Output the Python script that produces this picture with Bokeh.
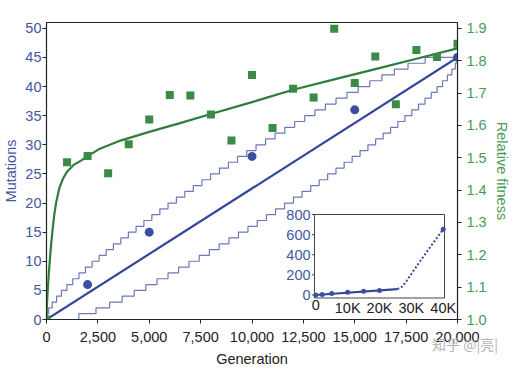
from bokeh.plotting import figure
from bokeh.layouts import column
from bokeh.models import Range1d, LinearAxis, FixedTicker, NumeralTickFormatter, Div
from bokeh.core.properties import value
from bokeh.embed import file_html
from bokeh.resources import INLINE

# ---------------- data ----------------
MUT_GEN = [2000, 5000, 10000, 15000, 20000]
MUTATIONS = [6, 15, 28, 36, 45]

MUT_FIT_GEN = [0, 20000]
MUT_FIT = [0, 45]

FIT_GEN = [0, 1000, 2000, 3000, 4000, 5000, 6000, 7000, 8000, 9000, 10000,
           11000, 12000, 13000, 14000, 15000, 16000, 17000, 18000, 19000, 20000]
FITNESS = [1.0, 1.486, 1.505, 1.452, 1.542, 1.618, 1.694, 1.692, 1.634, 1.553, 1.756,
           1.592, 1.713, 1.686, 1.899, 1.731, 1.813, 1.665, 1.833, 1.811, 1.852]

FIT_CURVE_GEN = [0, 25, 60, 110, 170, 230, 300, 380, 480, 620, 800, 1000, 1300, 1700,
                 2000, 2600, 3600, 5000, 6500, 8000, 10000, 12000, 14000, 16000, 18000, 20000]
FIT_CURVE = [1.0, 1.05, 1.09, 1.14, 1.19, 1.235, 1.28, 1.325, 1.365, 1.405, 1.435, 1.457,
             1.477, 1.492, 1.505, 1.528, 1.553, 1.58, 1.607, 1.635, 1.672, 1.71, 1.742,
             1.774, 1.806, 1.838]

# generation at which the upper / lower band reaches 1, 2, ..., 45 mutations
UPPER_STEP_GEN = [11, 108, 278, 490, 728, 992, 1278, 1580, 1896, 2224, 2560, 2904, 3256,
                  3616, 3984, 4358, 4740, 5126, 5516, 5914, 6320, 6730, 7142, 7564, 7984,
                  8418, 8854, 9296, 9744, 10196, 10658, 11122, 11598, 12076, 12568, 13062,
                  13572, 14088, 14622, 15166, 15732, 16320, 16928, 17592, 18426]
LOWER_STEP_GEN = [1574, 2408, 3072, 3680, 4268, 4834, 5378, 5912, 6428, 6938, 7432, 7924,
                  8402, 8878, 9342, 9804, 10256, 10704, 11146, 11582, 12016, 12436, 12858,
                  13270, 13680, 14086, 14484, 14874, 15260, 15642, 16016, 16384, 16744,
                  17096, 17440, 17776, 18104, 18420, 18722, 19008, 19272, 19510, 19722,
                  19892, 19989]
STEP_COUNTS = list(range(0, 46)) + [45]

INSET_GEN = [0, 2000, 5000, 10000, 15000, 20000, 40000]
INSET_MUT = [0, 6, 15, 28, 36, 45, 653]
INSET_FIT_GEN = [0, 25600]
INSET_FIT_MUT = [0, 58]
INSET_PROJ_GEN = [25600, 27000, 28200, 31300, 34400, 37600, 40000]
INSET_PROJ_MUT = [58, 80, 126, 270, 410, 550, 653]

X_TICKS = [0, 2500, 5000, 7500, 10000, 12500, 15000, 17500, 20000]
Y_TICKS = [0, 5, 10, 15, 20, 25, 30, 35, 40, 45, 50]
FIT_TICKS = [1.0, 1.1, 1.2, 1.3, 1.4, 1.5, 1.6, 1.7, 1.8, 1.9]
INSET_X_TICKS = [0, 10000, 20000, 30000, 40000]
INSET_X_LABELS = ["0", "10K", "20K", "30K", "40K"]
INSET_Y_TICKS = [0, 200, 400, 600, 800]
INSET_Y_LABELS = ["0", "200", "400", "600", "800"]
WATERMARK = "知乎 @|亮|"

# ---------------- style ----------------
BLUE = "#3a4f9f"
BLUE_LINE = "#33469a"
STAIR = "#6c79b6"
BLUE_TXT = "#46589c"
GREEN = "#3b8a46"
GREEN_LINE = "#2f7d3b"
GREEN_TXT = "#4a9a55"
DARK = "#222222"
FONT = "Liberation Sans"
FS = "14.5px"

W, H = 518, 372
ML, MR, MT, MB = 46, 61, 22, 53

fig = figure(width=W, height=H, x_range=Range1d(0, 20000), y_range=Range1d(0, 51),
             output_backend="svg", toolbar_location=None,
             min_border_left=ML, min_border_right=MR, min_border_top=MT, min_border_bottom=MB)
fig.outline_line_color = DARK
fig.outline_line_width = 1.2
fig.grid.visible = False
fig.background_fill_color = "white"
fig.border_fill_color = "white"

fig.extra_y_ranges = {"fit": Range1d(1.0, 1.918)}

# inset placement (fractions of the main frame) and its own data ranges
IN_X0, IN_X1 = -400, 40400
IN_Y0, IN_Y1 = -30, 800
FL, FR, FB, FT = 0.6521, 0.9684, 0.0724, 0.3535
ixspan = (IN_X1 - IN_X0) / (FR - FL)
ixs = IN_X0 - FL * ixspan
iyspan = (IN_Y1 - IN_Y0) / (FT - FB)
iys = IN_Y0 - FB * iyspan
fig.extra_x_ranges = {"ix": Range1d(ixs, ixs + ixspan)}
fig.extra_y_ranges["iy"] = Range1d(iys, iys + iyspan)

def style_axis(ax, color):
    ax.major_label_text_font = FONT
    ax.major_label_text_font_size = FS
    ax.major_label_text_color = color
    ax.axis_label_text_font = FONT
    ax.axis_label_text_font_size = FS
    ax.axis_label_text_font_style = "normal"
    ax.axis_line_color = DARK
    ax.major_tick_line_color = DARK
    ax.major_tick_in = 0
    ax.major_tick_out = 4
    ax.minor_tick_line_color = None
    ax.major_label_standoff = 2

xa = fig.xaxis[0]
style_axis(xa, DARK)
xa.ticker = FixedTicker(ticks=X_TICKS)
xa.formatter = NumeralTickFormatter(format="0,0")
xa.axis_label = "Generation"
xa.axis_label_text_color = DARK
xa.axis_label_standoff = 6
xa.major_label_standoff = 8

ya = fig.yaxis[0]
style_axis(ya, BLUE_TXT)
ya.ticker = FixedTicker(ticks=Y_TICKS)
ya.axis_label = "Mutations"
ya.axis_label_text_color = BLUE_TXT
ya.axis_label_standoff = 3
ya.major_label_standoff = 1

ra = LinearAxis(y_range_name="fit")
style_axis(ra, GREEN_TXT)
ra.ticker = FixedTicker(ticks=FIT_TICKS)
ra.formatter = NumeralTickFormatter(format="0.0")
ra.axis_label = "Relative fitness"
ra.axis_label_text_color = GREEN_TXT
ra.axis_label_standoff = 4
ra.major_label_standoff = 5
fig.add_layout(ra, "right")

# ---------------- main glyphs ----------------
fig.step(x=[0] + UPPER_STEP_GEN + [20000], y=STEP_COUNTS, mode="after",
         line_color=STAIR, line_width=1.2)
fig.step(x=[0] + LOWER_STEP_GEN + [20000], y=STEP_COUNTS, mode="after",
         line_color=STAIR, line_width=1.2)
fig.line(MUT_FIT_GEN, MUT_FIT, line_color=BLUE_LINE, line_width=2.2)
fig.scatter(MUT_GEN, MUTATIONS, marker="circle", size=9, fill_color=BLUE, line_color=None)

fig.line(FIT_CURVE_GEN, FIT_CURVE, line_color=GREEN_LINE, line_width=2.2, y_range_name="fit")
fig.scatter(FIT_GEN, FITNESS, marker="square", size=8, fill_color=GREEN, line_color=None,
            y_range_name="fit")

# ---------------- inset ----------------
fig.quad(left=IN_X0, right=IN_X1, bottom=IN_Y0, top=IN_Y1, fill_color="white",
         line_color="#444444", line_width=1, x_range_name="ix", y_range_name="iy")
tick_len = 2.5 * ixspan / 411.0
fig.segment(x0=[IN_X0] * len(INSET_Y_TICKS), x1=[IN_X0 - tick_len] * len(INSET_Y_TICKS),
            y0=INSET_Y_TICKS, y1=INSET_Y_TICKS, line_color="#444444", line_width=1,
            x_range_name="ix", y_range_name="iy")
fig.text(x=[IN_X0] * len(INSET_Y_TICKS), y=INSET_Y_TICKS, text=INSET_Y_LABELS,
         x_offset=-4, text_align="right", text_baseline="middle",
         text_font=value(FONT), text_font_size=value(FS), text_color=BLUE_TXT,
         x_range_name="ix", y_range_name="iy")
fig.text(x=INSET_X_TICKS, y=[IN_Y0] * len(INSET_X_TICKS), text=INSET_X_LABELS,
         y_offset=2, text_align="center", text_baseline="top",
         text_font=value(FONT), text_font_size=value(FS), text_color=DARK,
         x_range_name="ix", y_range_name="iy")
fig.line(INSET_FIT_GEN, INSET_FIT_MUT, line_color=BLUE_LINE, line_width=2.2,
         x_range_name="ix", y_range_name="iy")
fig.line(INSET_PROJ_GEN, INSET_PROJ_MUT, line_color=BLUE_LINE, line_width=2,
         line_dash="2 2", x_range_name="ix", y_range_name="iy")
fig.scatter(INSET_GEN, INSET_MUT, marker="circle", size=5, fill_color=BLUE, line_color=None,
            x_range_name="ix", y_range_name="iy")

# watermark overlaid on the bottom-right corner of the page
wm = Div(text=WATERMARK, width=90, height=20, margin=(-38, 0, 0, 432),
         styles={"color": "#b4b4b4", "font-size": "14px", "line-height": "20px",
                 "font-family": "'Noto Sans CJK SC'", "white-space": "nowrap"})

p = column(fig, wm, spacing=0)

open("out.html", "w").write(file_html(p, INLINE))
